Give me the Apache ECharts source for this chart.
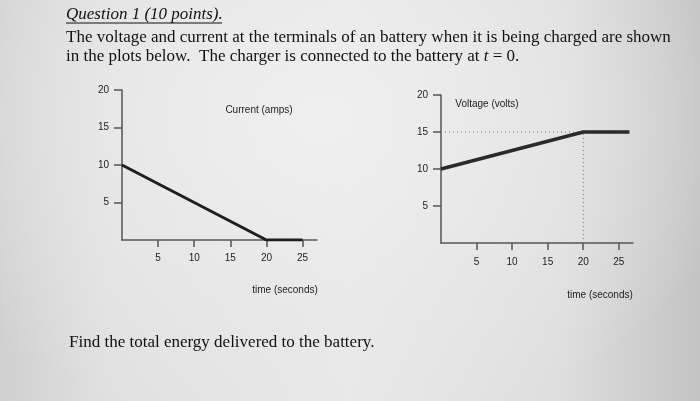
<!DOCTYPE html>
<html><head><meta charset="utf-8">
<script src="https://cdn.jsdelivr.net/npm/echarts@6/dist/echarts.min.js"></script>
<style>
html,body{margin:0;padding:0;width:700px;height:401px;overflow:hidden;}
body{background:
 radial-gradient(ellipse at 45% 30%, rgba(240,240,240,0.9) 0%, rgba(235,235,235,0.5) 45%, rgba(200,200,200,0) 80%),
 linear-gradient(to right,#d0d0d0 0%,#e0e0e0 15%,#e8e8e8 50%,#dedede 80%,#c4c4c4 100%);}
#c{width:700px;height:401px;}
</style></head><body>
<div id="c"></div>
<script>
var timeTicks = [5, 10, 15, 20, 25];
var valueTicks = [5, 10, 15, 20];
var currentData = [[0, 10], [20, 0], [25, 0]];
var voltageData = [[0, 10], [20, 15], [26.5, 15]];
var voltageGuideH = [[0, 15], [20, 15]];
var voltageGuideV = [[20, 0], [20, 15]];
var questionTitle = 'Question 1 (10 points).';
var questionLines = [
 'The voltage and current at the terminals of an battery when it is being charged are shown',
 'in the plots below.  The charger is connected to the battery at {i|t} = 0.'
];
var questionEnd = 'Find the total energy delivered to the battery.';
var currentLabel = 'Current (amps)';
var voltageLabel = 'Voltage (volts)';
var timeLabel = 'time (seconds)';

var chart = echarts.init(document.getElementById('c'), null, {renderer:'canvas'});
var sans = 'Liberation Sans, Arial, sans-serif';
var serif = 'Liberation Serif, Times New Roman, serif';
function xAx(i, m){return {type:'value',gridIndex:i,min:0,max:27,interval:5,
  axisLine:{show:true,lineStyle:{color:'#555',width:1.5}},
  axisTick:{show:true,length:7,lineStyle:{color:'#555',width:1.5},
    customValues: timeTicks},
  axisLabel:{color:'#222',fontSize:10,fontFamily:sans,margin:m,
    customValues: timeTicks},
  splitLine:{show:false}};}
function yAx(i){return {type:'value',gridIndex:i,min:0,max:20,interval:5,
  axisLine:{show:true,lineStyle:{color:'#555',width:1.5}},
  axisTick:{show:true,length:8,lineStyle:{color:'#555',width:1.5},customValues: valueTicks},
  axisLabel:{color:'#222',fontSize:10,fontFamily:sans,margin:13,customValues: valueTicks},
  splitLine:{show:false}};}
chart.setOption({
  animation:false,
  grid:[{left:122,top:90,width:195,height:150},{left:441,top:95,width:192,height:148}],
  xAxis:[xAx(0,13),xAx(1,14)],
  yAxis:[yAx(0),yAx(1)],
  series:[
    {type:'line',xAxisIndex:0,yAxisIndex:0,data:currentData,symbol:'none',
     lineStyle:{color:'#1e1e1e',width:3}},
    {type:'line',xAxisIndex:1,yAxisIndex:1,data:voltageGuideH,symbol:'none',
     lineStyle:{color:'#777',width:1,type:[1,3]}},
    {type:'line',xAxisIndex:1,yAxisIndex:1,data:voltageGuideV,symbol:'none',
     lineStyle:{color:'#777',width:1,type:[1,3]}},
    {type:'line',xAxisIndex:1,yAxisIndex:1,data:voltageData,symbol:'none',
     lineStyle:{color:'#2a2a2a',width:3.5}}
  ],
  graphic:[
    {type:'text',x:66,y:15,style:{text:questionTitle,font:'italic 17px '+serif,fill:'#111',verticalAlign:'middle'}},
    {type:'line',shape:{x1:66,y1:23,x2:222,y2:23},style:{stroke:'#111',lineWidth:1.2}},
    {type:'text',x:66,y:38,style:{text:questionLines[0],font:'17px '+serif,fill:'#111',verticalAlign:'middle'}},
    {type:'text',x:66,y:57,style:{text:questionLines[1],font:'17px '+serif,fill:'#111',verticalAlign:'middle',
      rich:{i:{fontStyle:'italic',fontSize:17,fontFamily:serif,fill:'#111'}}}},
    {type:'text',x:69,y:343,style:{text:questionEnd,font:'17px '+serif,fill:'#111',verticalAlign:'middle'}},
    {type:'text',x:259,y:110,style:{text:currentLabel,font:'10px '+sans,fill:'#222',align:'center',verticalAlign:'middle'}},
    {type:'text',x:285,y:290,style:{text:timeLabel,font:'10px '+sans,fill:'#222',align:'center',verticalAlign:'middle'}},
    {type:'text',x:487,y:104,style:{text:voltageLabel,font:'10px '+sans,fill:'#222',align:'center',verticalAlign:'middle'}},
    {type:'text',x:600,y:295,style:{text:timeLabel,font:'10px '+sans,fill:'#222',align:'center',verticalAlign:'middle'}}
  ]
});
</script></body></html>
